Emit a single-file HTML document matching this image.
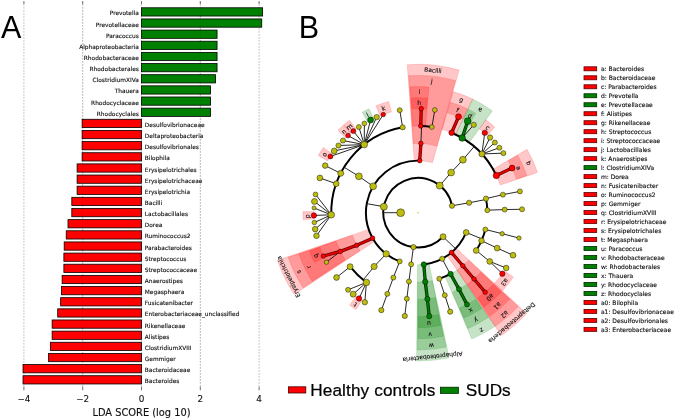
<!DOCTYPE html>
<html><head><meta charset="utf-8"><title>LEfSe</title>
<style>html,body{margin:0;padding:0;background:#fff}svg{display:block}text{font-family:"DejaVu Sans","Liberation Sans",sans-serif;fill:#111;stroke:#111;stroke-width:0.13px}.lib,.lib text{font-family:"Liberation Sans",Arial,sans-serif;fill:#000;stroke:none}.lib .bl{stroke:#000;stroke-width:0.22px}</style>
</head><body>
<svg width="675" height="419" viewBox="0 0 675 419">
<rect width="675" height="419" fill="#fff"/>
<g id="panelA">
<line x1="23.90" y1="1.5" x2="23.90" y2="387" stroke="#555" stroke-width="0.7" stroke-dasharray="0.9 2.1"/>
<line x1="23.90" y1="1.5" x2="23.90" y2="4" stroke="#333" stroke-width="0.7"/>
<line x1="23.90" y1="386.8" x2="23.90" y2="390.3" stroke="#333" stroke-width="0.7"/>
<line x1="82.70" y1="1.5" x2="82.70" y2="387" stroke="#555" stroke-width="0.7" stroke-dasharray="0.9 2.1"/>
<line x1="82.70" y1="1.5" x2="82.70" y2="4" stroke="#333" stroke-width="0.7"/>
<line x1="82.70" y1="386.8" x2="82.70" y2="390.3" stroke="#333" stroke-width="0.7"/>
<line x1="141.50" y1="1.5" x2="141.50" y2="387" stroke="#555" stroke-width="0.7" stroke-dasharray="0.9 2.1"/>
<line x1="141.50" y1="1.5" x2="141.50" y2="4" stroke="#333" stroke-width="0.7"/>
<line x1="141.50" y1="386.8" x2="141.50" y2="390.3" stroke="#333" stroke-width="0.7"/>
<line x1="200.30" y1="1.5" x2="200.30" y2="387" stroke="#555" stroke-width="0.7" stroke-dasharray="0.9 2.1"/>
<line x1="200.30" y1="1.5" x2="200.30" y2="4" stroke="#333" stroke-width="0.7"/>
<line x1="200.30" y1="386.8" x2="200.30" y2="390.3" stroke="#333" stroke-width="0.7"/>
<line x1="259.10" y1="1.5" x2="259.10" y2="387" stroke="#555" stroke-width="0.7" stroke-dasharray="0.9 2.1"/>
<line x1="259.10" y1="1.5" x2="259.10" y2="4" stroke="#333" stroke-width="0.7"/>
<line x1="259.10" y1="386.8" x2="259.10" y2="390.3" stroke="#333" stroke-width="0.7"/>
<rect x="141.50" y="7.78" width="121.13" height="8.25" fill="#008000" stroke="#000" stroke-width="0.8"/>
<text x="138.80" y="15.40" text-anchor="end" font-size="5.85">Prevotella</text>
<rect x="141.50" y="18.93" width="120.25" height="8.25" fill="#008000" stroke="#000" stroke-width="0.8"/>
<text x="138.80" y="26.55" text-anchor="end" font-size="5.85">Prevotellaceae</text>
<rect x="141.50" y="30.08" width="75.56" height="8.25" fill="#008000" stroke="#000" stroke-width="0.8"/>
<text x="138.80" y="37.70" text-anchor="end" font-size="5.85">Paracoccus</text>
<rect x="141.50" y="41.23" width="75.56" height="8.25" fill="#008000" stroke="#000" stroke-width="0.8"/>
<text x="138.80" y="48.85" text-anchor="end" font-size="5.85">Alphaproteobacteria</text>
<rect x="141.50" y="52.38" width="75.56" height="8.25" fill="#008000" stroke="#000" stroke-width="0.8"/>
<text x="138.80" y="60.00" text-anchor="end" font-size="5.85">Rhodobacteraceae</text>
<rect x="141.50" y="63.53" width="75.56" height="8.25" fill="#008000" stroke="#000" stroke-width="0.8"/>
<text x="138.80" y="71.15" text-anchor="end" font-size="5.85">Rhodobacterales</text>
<rect x="141.50" y="74.68" width="74.09" height="8.25" fill="#008000" stroke="#000" stroke-width="0.8"/>
<text x="138.80" y="82.30" text-anchor="end" font-size="5.85">ClostridiumXIVa</text>
<rect x="141.50" y="85.83" width="69.09" height="8.25" fill="#008000" stroke="#000" stroke-width="0.8"/>
<text x="138.80" y="93.45" text-anchor="end" font-size="5.85">Thauera</text>
<rect x="141.50" y="96.98" width="69.09" height="8.25" fill="#008000" stroke="#000" stroke-width="0.8"/>
<text x="138.80" y="104.60" text-anchor="end" font-size="5.85">Rhodocyclaceae</text>
<rect x="141.50" y="108.13" width="69.09" height="8.25" fill="#008000" stroke="#000" stroke-width="0.8"/>
<text x="138.80" y="115.75" text-anchor="end" font-size="5.85">Rhodocyclales</text>
<rect x="82.11" y="119.28" width="59.39" height="8.25" fill="#ff0000" stroke="#000" stroke-width="0.8"/>
<text x="144.80" y="126.90" font-size="5.85">Desulfovibrionaceae</text>
<rect x="82.11" y="130.43" width="59.39" height="8.25" fill="#ff0000" stroke="#000" stroke-width="0.8"/>
<text x="144.80" y="138.05" font-size="5.85">Deltaproteobacteria</text>
<rect x="82.11" y="141.58" width="59.39" height="8.25" fill="#ff0000" stroke="#000" stroke-width="0.8"/>
<text x="144.80" y="149.20" font-size="5.85">Desulfovibrionales</text>
<rect x="82.11" y="152.73" width="59.39" height="8.25" fill="#ff0000" stroke="#000" stroke-width="0.8"/>
<text x="144.80" y="160.35" font-size="5.85">Bilophila</text>
<rect x="77.11" y="163.88" width="64.39" height="8.25" fill="#ff0000" stroke="#000" stroke-width="0.8"/>
<text x="144.80" y="171.50" font-size="5.85">Erysipelotrichales</text>
<rect x="77.11" y="175.03" width="64.39" height="8.25" fill="#ff0000" stroke="#000" stroke-width="0.8"/>
<text x="144.80" y="182.65" font-size="5.85">Erysipelotrichaceae</text>
<rect x="77.11" y="186.18" width="64.39" height="8.25" fill="#ff0000" stroke="#000" stroke-width="0.8"/>
<text x="144.80" y="193.80" font-size="5.85">Erysipelotrichia</text>
<rect x="71.82" y="197.33" width="69.68" height="8.25" fill="#ff0000" stroke="#000" stroke-width="0.8"/>
<text x="144.80" y="204.95" font-size="5.85">Bacilli</text>
<rect x="71.82" y="208.48" width="69.68" height="8.25" fill="#ff0000" stroke="#000" stroke-width="0.8"/>
<text x="144.80" y="216.10" font-size="5.85">Lactobacillales</text>
<rect x="68.00" y="219.62" width="73.50" height="8.25" fill="#ff0000" stroke="#000" stroke-width="0.8"/>
<text x="144.80" y="227.25" font-size="5.85">Dorea</text>
<rect x="66.24" y="230.78" width="75.26" height="8.25" fill="#ff0000" stroke="#000" stroke-width="0.8"/>
<text x="144.80" y="238.40" font-size="5.85">Ruminococcus2</text>
<rect x="64.18" y="241.93" width="77.32" height="8.25" fill="#ff0000" stroke="#000" stroke-width="0.8"/>
<text x="144.80" y="249.55" font-size="5.85">Parabacteroides</text>
<rect x="63.88" y="253.07" width="77.62" height="8.25" fill="#ff0000" stroke="#000" stroke-width="0.8"/>
<text x="144.80" y="260.70" font-size="5.85">Streptococcus</text>
<rect x="63.88" y="264.22" width="77.62" height="8.25" fill="#ff0000" stroke="#000" stroke-width="0.8"/>
<text x="144.80" y="271.85" font-size="5.85">Streptococcaceae</text>
<rect x="62.12" y="275.38" width="79.38" height="8.25" fill="#ff0000" stroke="#000" stroke-width="0.8"/>
<text x="144.80" y="283.00" font-size="5.85">Anaerostipes</text>
<rect x="61.53" y="286.52" width="79.97" height="8.25" fill="#ff0000" stroke="#000" stroke-width="0.8"/>
<text x="144.80" y="294.15" font-size="5.85">Megasphaera</text>
<rect x="60.65" y="297.68" width="80.85" height="8.25" fill="#ff0000" stroke="#000" stroke-width="0.8"/>
<text x="144.80" y="305.30" font-size="5.85">Fusicatenibacter</text>
<rect x="57.71" y="308.82" width="83.79" height="8.25" fill="#ff0000" stroke="#000" stroke-width="0.8"/>
<text x="144.80" y="316.45" font-size="5.85">Enterobacteriaceae_unclassified</text>
<rect x="52.12" y="319.97" width="89.38" height="8.25" fill="#ff0000" stroke="#000" stroke-width="0.8"/>
<text x="144.80" y="327.60" font-size="5.85">Rikenellaceae</text>
<rect x="52.12" y="331.12" width="89.38" height="8.25" fill="#ff0000" stroke="#000" stroke-width="0.8"/>
<text x="144.80" y="338.75" font-size="5.85">Alistipes</text>
<rect x="50.36" y="342.27" width="91.14" height="8.25" fill="#ff0000" stroke="#000" stroke-width="0.8"/>
<text x="144.80" y="349.90" font-size="5.85">ClostridiumXVIII</text>
<rect x="48.60" y="353.43" width="92.90" height="8.25" fill="#ff0000" stroke="#000" stroke-width="0.8"/>
<text x="144.80" y="361.05" font-size="5.85">Gemmiger</text>
<rect x="23.02" y="364.57" width="118.48" height="8.25" fill="#ff0000" stroke="#000" stroke-width="0.8"/>
<text x="144.80" y="372.20" font-size="5.85">Bacteroidaceae</text>
<rect x="23.02" y="375.72" width="118.48" height="8.25" fill="#ff0000" stroke="#000" stroke-width="0.8"/>
<text x="144.80" y="383.35" font-size="5.85">Bacteroides</text>
<line x1="82.70" y1="1.5" x2="82.70" y2="387" stroke="#000" stroke-opacity="0.25" stroke-width="0.6" stroke-dasharray="0.9 2.1"/>
<line x1="200.30" y1="1.5" x2="200.30" y2="387" stroke="#000" stroke-opacity="0.25" stroke-width="0.6" stroke-dasharray="0.9 2.1"/>
<text x="23.90" y="401.8" text-anchor="middle" font-size="8.85">−4</text>
<text x="82.70" y="401.8" text-anchor="middle" font-size="8.85">−2</text>
<text x="141.50" y="401.8" text-anchor="middle" font-size="8.85">0</text>
<text x="200.30" y="401.8" text-anchor="middle" font-size="8.85">2</text>
<text x="259.10" y="401.8" text-anchor="middle" font-size="8.85">4</text>
<text x="141.50" y="415.6" text-anchor="middle" font-size="9.86">LDA SCORE (log 10)</text>
</g>
<text x="0.9" y="38" class="lib" font-size="30.5">A</text>
<text x="298.7" y="37.5" class="lib" font-size="30.5">B</text>
<g id="legend">
<rect x="584.0" y="66.80" width="12.7" height="4.0" fill="#ff0000" stroke="#5a0000" stroke-width="0.8"/>
<text x="600.9" y="71.00" font-size="6.02">a: Bacteroides</text>
<rect x="584.0" y="75.78" width="12.7" height="4.0" fill="#ff0000" stroke="#5a0000" stroke-width="0.8"/>
<text x="600.9" y="79.98" font-size="6.02">b: Bacteroidaceae</text>
<rect x="584.0" y="84.77" width="12.7" height="4.0" fill="#ff0000" stroke="#5a0000" stroke-width="0.8"/>
<text x="600.9" y="88.97" font-size="6.02">c: Parabacteroides</text>
<rect x="584.0" y="93.75" width="12.7" height="4.0" fill="#008000" stroke="#002800" stroke-width="0.8"/>
<text x="600.9" y="97.95" font-size="6.02">d: Prevotella</text>
<rect x="584.0" y="102.74" width="12.7" height="4.0" fill="#008000" stroke="#002800" stroke-width="0.8"/>
<text x="600.9" y="106.94" font-size="6.02">e: Prevotellaceae</text>
<rect x="584.0" y="111.72" width="12.7" height="4.0" fill="#ff0000" stroke="#5a0000" stroke-width="0.8"/>
<text x="600.9" y="115.92" font-size="6.02">f: Alistipes</text>
<rect x="584.0" y="120.71" width="12.7" height="4.0" fill="#ff0000" stroke="#5a0000" stroke-width="0.8"/>
<text x="600.9" y="124.91" font-size="6.02">g: Rikenellaceae</text>
<rect x="584.0" y="129.69" width="12.7" height="4.0" fill="#ff0000" stroke="#5a0000" stroke-width="0.8"/>
<text x="600.9" y="133.89" font-size="6.02">h: Streptococcus</text>
<rect x="584.0" y="138.68" width="12.7" height="4.0" fill="#ff0000" stroke="#5a0000" stroke-width="0.8"/>
<text x="600.9" y="142.88" font-size="6.02">i: Streptococcaceae</text>
<rect x="584.0" y="147.66" width="12.7" height="4.0" fill="#ff0000" stroke="#5a0000" stroke-width="0.8"/>
<text x="600.9" y="151.86" font-size="6.02">j: Lactobacillales</text>
<rect x="584.0" y="156.65" width="12.7" height="4.0" fill="#ff0000" stroke="#5a0000" stroke-width="0.8"/>
<text x="600.9" y="160.85" font-size="6.02">k: Anaerostipes</text>
<rect x="584.0" y="165.63" width="12.7" height="4.0" fill="#008000" stroke="#002800" stroke-width="0.8"/>
<text x="600.9" y="169.83" font-size="6.02">l: ClostridiumXIVa</text>
<rect x="584.0" y="174.62" width="12.7" height="4.0" fill="#ff0000" stroke="#5a0000" stroke-width="0.8"/>
<text x="600.9" y="178.82" font-size="6.02">m: Dorea</text>
<rect x="584.0" y="183.60" width="12.7" height="4.0" fill="#ff0000" stroke="#5a0000" stroke-width="0.8"/>
<text x="600.9" y="187.80" font-size="6.02">n: Fusicatenibacter</text>
<rect x="584.0" y="192.59" width="12.7" height="4.0" fill="#ff0000" stroke="#5a0000" stroke-width="0.8"/>
<text x="600.9" y="196.79" font-size="6.02">o: Ruminococcus2</text>
<rect x="584.0" y="201.57" width="12.7" height="4.0" fill="#ff0000" stroke="#5a0000" stroke-width="0.8"/>
<text x="600.9" y="205.77" font-size="6.02">p: Gemmiger</text>
<rect x="584.0" y="210.56" width="12.7" height="4.0" fill="#ff0000" stroke="#5a0000" stroke-width="0.8"/>
<text x="600.9" y="214.76" font-size="6.02">q: ClostridiumXVIII</text>
<rect x="584.0" y="219.55" width="12.7" height="4.0" fill="#ff0000" stroke="#5a0000" stroke-width="0.8"/>
<text x="600.9" y="223.75" font-size="6.02">r: Erysipelotrichaceae</text>
<rect x="584.0" y="228.53" width="12.7" height="4.0" fill="#ff0000" stroke="#5a0000" stroke-width="0.8"/>
<text x="600.9" y="232.73" font-size="6.02">s: Erysipelotrichales</text>
<rect x="584.0" y="237.51" width="12.7" height="4.0" fill="#ff0000" stroke="#5a0000" stroke-width="0.8"/>
<text x="600.9" y="241.71" font-size="6.02">t: Megasphaera</text>
<rect x="584.0" y="246.50" width="12.7" height="4.0" fill="#008000" stroke="#002800" stroke-width="0.8"/>
<text x="600.9" y="250.70" font-size="6.02">u: Paracoccus</text>
<rect x="584.0" y="255.49" width="12.7" height="4.0" fill="#008000" stroke="#002800" stroke-width="0.8"/>
<text x="600.9" y="259.69" font-size="6.02">v: Rhodobacteraceae</text>
<rect x="584.0" y="264.47" width="12.7" height="4.0" fill="#008000" stroke="#002800" stroke-width="0.8"/>
<text x="600.9" y="268.67" font-size="6.02">w: Rhodobacterales</text>
<rect x="584.0" y="273.45" width="12.7" height="4.0" fill="#008000" stroke="#002800" stroke-width="0.8"/>
<text x="600.9" y="277.65" font-size="6.02">x: Thauera</text>
<rect x="584.0" y="282.44" width="12.7" height="4.0" fill="#008000" stroke="#002800" stroke-width="0.8"/>
<text x="600.9" y="286.64" font-size="6.02">y: Rhodocyclaceae</text>
<rect x="584.0" y="291.43" width="12.7" height="4.0" fill="#008000" stroke="#002800" stroke-width="0.8"/>
<text x="600.9" y="295.62" font-size="6.02">z: Rhodocyclales</text>
<rect x="584.0" y="300.41" width="12.7" height="4.0" fill="#ff0000" stroke="#5a0000" stroke-width="0.8"/>
<text x="600.9" y="304.61" font-size="6.02">a0: Bilophila</text>
<rect x="584.0" y="309.39" width="12.7" height="4.0" fill="#ff0000" stroke="#5a0000" stroke-width="0.8"/>
<text x="600.9" y="313.59" font-size="6.02">a1: Desulfovibrionaceae</text>
<rect x="584.0" y="318.38" width="12.7" height="4.0" fill="#ff0000" stroke="#5a0000" stroke-width="0.8"/>
<text x="600.9" y="322.58" font-size="6.02">a2: Desulfovibrionales</text>
<rect x="584.0" y="327.37" width="12.7" height="4.0" fill="#ff0000" stroke="#5a0000" stroke-width="0.8"/>
<text x="600.9" y="331.56" font-size="6.02">a3: Enterobacteriaceae</text>
</g>
<g id="classlegend" class="lib" font-size="17.2">
<rect x="288.4" y="386.8" width="17.4" height="6.2" fill="#ff0000" stroke="#400" stroke-width="0.8"/>
<text x="310.2" y="395.6" letter-spacing="0.12" class="bl">Healthy controls</text>
<rect x="440.4" y="387.2" width="18" height="6.2" fill="#008000" stroke="#002800" stroke-width="0.8"/>
<text x="465.8" y="395.6" class="bl">SUDs</text>
</g>
<g id="clado">
<g id="wedges">
<path d="M432.43,162.69 L459.15,70.12 A148.40,148.40 0 0 0 407.26,64.69 L414.23,160.79 A52.05,52.05 0 0 1 432.43,162.69 Z" fill="#ff0000" fill-opacity="0.22" stroke="#ff0000" stroke-opacity="0.3" stroke-width="0.5"/>
<path d="M436.92,145.93 L455.43,80.60 A137.30,137.30 0 0 0 408.73,75.71 L413.32,143.46 A69.40,69.40 0 0 1 436.92,145.93 Z" fill="#ff0000" fill-opacity="0.22" stroke="#ff0000" stroke-opacity="0.3" stroke-width="0.5"/>
<path d="M425.55,126.28 L428.97,87.08 A126.10,126.10 0 0 0 410.10,86.85 L412.57,126.12 A86.75,86.75 0 0 1 425.55,126.28 Z" fill="#ff0000" fill-opacity="0.22" stroke="#ff0000" stroke-opacity="0.3" stroke-width="0.5"/>
<path d="M426.55,108.95 L427.44,98.09 A115.00,115.00 0 0 0 411.36,97.89 L411.99,108.77 A104.10,104.10 0 0 1 426.55,108.95 Z" fill="#ff0000" fill-opacity="0.22" stroke="#ff0000" stroke-opacity="0.3" stroke-width="0.5"/>
<path d="M455.62,134.53 L472.68,99.07 A126.10,126.10 0 0 0 452.97,91.55 L442.06,129.35 A86.75,86.75 0 0 1 455.62,134.53 Z" fill="#ff0000" fill-opacity="0.22" stroke="#ff0000" stroke-opacity="0.3" stroke-width="0.5"/>
<path d="M462.68,118.68 L467.36,108.83 A115.00,115.00 0 0 0 450.43,102.37 L447.36,112.83 A104.10,104.10 0 0 1 462.68,118.68 Z" fill="#ff0000" fill-opacity="0.22" stroke="#ff0000" stroke-opacity="0.3" stroke-width="0.5"/>
<path d="M469.17,142.65 L492.39,110.88 A126.10,126.10 0 0 0 472.68,99.07 L455.62,134.53 A86.75,86.75 0 0 1 469.17,142.65 Z" fill="#008000" fill-opacity="0.22" stroke="#008000" stroke-opacity="0.3" stroke-width="0.5"/>
<path d="M470.32,122.70 L475.80,113.28 A115.00,115.00 0 0 0 468.38,109.32 L463.60,119.12 A104.10,104.10 0 0 1 470.32,122.70 Z" fill="#008000" fill-opacity="0.22" stroke="#008000" stroke-opacity="0.3" stroke-width="0.5"/>
<path d="M487.45,135.16 L494.73,127.04 A115.00,115.00 0 0 0 485.84,119.84 L479.41,128.64 A104.10,104.10 0 0 1 487.45,135.16 Z" fill="#ff0000" fill-opacity="0.22" stroke="#ff0000" stroke-opacity="0.3" stroke-width="0.5"/>
<path d="M500.22,185.03 L537.51,172.48 A126.10,126.10 0 0 0 527.04,149.36 L493.01,169.13 A86.75,86.75 0 0 1 500.22,185.03 Z" fill="#ff0000" fill-opacity="0.22" stroke="#ff0000" stroke-opacity="0.3" stroke-width="0.5"/>
<path d="M516.50,179.01 L526.81,175.49 A115.00,115.00 0 0 0 517.72,155.43 L508.27,160.85 A104.10,104.10 0 0 1 516.50,179.01 Z" fill="#ff0000" fill-opacity="0.22" stroke="#ff0000" stroke-opacity="0.3" stroke-width="0.5"/>
<path d="M391.41,112.05 L388.62,101.52 A115.00,115.00 0 0 0 375.95,105.67 L379.93,115.81 A104.10,104.10 0 0 1 391.41,112.05 Z" fill="#ff0000" fill-opacity="0.22" stroke="#ff0000" stroke-opacity="0.3" stroke-width="0.5"/>
<path d="M373.59,118.55 L368.94,108.69 A115.00,115.00 0 0 0 362.16,112.17 L367.45,121.70 A104.10,104.10 0 0 1 373.59,118.55 Z" fill="#008000" fill-opacity="0.22" stroke="#008000" stroke-opacity="0.3" stroke-width="0.5"/>
<path d="M356.08,129.02 L349.60,120.26 A115.00,115.00 0 0 0 343.62,124.99 L350.67,133.31 A104.10,104.10 0 0 1 356.08,129.02 Z" fill="#ff0000" fill-opacity="0.22" stroke="#ff0000" stroke-opacity="0.3" stroke-width="0.5"/>
<path d="M350.67,133.31 L343.62,124.99 A115.00,115.00 0 0 0 337.90,130.19 L345.49,138.01 A104.10,104.10 0 0 1 350.67,133.31 Z" fill="#ff0000" fill-opacity="0.22" stroke="#ff0000" stroke-opacity="0.3" stroke-width="0.5"/>
<path d="M332.26,153.66 L323.28,147.48 A115.00,115.00 0 0 0 318.21,155.55 L327.67,160.97 A104.10,104.10 0 0 1 332.26,153.66 Z" fill="#ff0000" fill-opacity="0.22" stroke="#ff0000" stroke-opacity="0.3" stroke-width="0.5"/>
<path d="M313.90,211.70 L303.01,211.60 A115.00,115.00 0 0 0 303.21,219.62 L314.09,218.96 A104.10,104.10 0 0 1 313.90,211.70 Z" fill="#ff0000" fill-opacity="0.22" stroke="#ff0000" stroke-opacity="0.3" stroke-width="0.5"/>
<path d="M368.70,229.39 L277.43,260.28 A148.40,148.40 0 0 0 294.18,294.50 L374.57,241.39 A52.05,52.05 0 0 1 368.70,229.39 Z" fill="#ff0000" fill-opacity="0.22" stroke="#ff0000" stroke-opacity="0.3" stroke-width="0.5"/>
<path d="M352.37,235.27 L288.16,257.36 A137.30,137.30 0 0 0 303.07,287.82 L359.91,250.67 A69.40,69.40 0 0 1 352.37,235.27 Z" fill="#ff0000" fill-opacity="0.22" stroke="#ff0000" stroke-opacity="0.3" stroke-width="0.5"/>
<path d="M336.11,241.31 L298.96,254.29 A126.10,126.10 0 0 0 312.11,281.18 L345.15,259.81 A86.75,86.75 0 0 1 336.11,241.31 Z" fill="#ff0000" fill-opacity="0.22" stroke="#ff0000" stroke-opacity="0.3" stroke-width="0.5"/>
<path d="M319.90,247.52 L309.62,251.16 A115.00,115.00 0 0 0 314.34,262.50 L324.17,257.78 A104.10,104.10 0 0 1 319.90,247.52 Z" fill="#ff0000" fill-opacity="0.22" stroke="#ff0000" stroke-opacity="0.3" stroke-width="0.5"/>
<path d="M356.08,296.38 L349.60,305.14 A115.00,115.00 0 0 0 356.04,309.58 L361.91,300.40 A104.10,104.10 0 0 1 356.08,296.38 Z" fill="#ff0000" fill-opacity="0.22" stroke="#ff0000" stroke-opacity="0.3" stroke-width="0.5"/>
<path d="M417.50,264.75 L416.58,361.09 A148.40,148.40 0 0 0 449.11,357.80 L428.91,263.59 A52.05,52.05 0 0 1 417.50,264.75 Z" fill="#008000" fill-opacity="0.22" stroke="#008000" stroke-opacity="0.3" stroke-width="0.5"/>
<path d="M417.67,282.10 L417.35,350.00 A137.30,137.30 0 0 0 446.12,347.09 L432.22,280.63 A69.40,69.40 0 0 1 417.67,282.10 Z" fill="#008000" fill-opacity="0.22" stroke="#008000" stroke-opacity="0.3" stroke-width="0.5"/>
<path d="M418.02,299.45 L418.02,338.80 A126.10,126.10 0 0 0 443.23,336.25 L435.35,297.70 A86.75,86.75 0 0 1 418.02,299.45 Z" fill="#008000" fill-opacity="0.22" stroke="#008000" stroke-opacity="0.3" stroke-width="0.5"/>
<path d="M418.53,316.80 L418.58,327.70 A115.00,115.00 0 0 0 440.46,325.49 L438.33,314.80 A104.10,104.10 0 0 1 418.53,316.80 Z" fill="#008000" fill-opacity="0.22" stroke="#008000" stroke-opacity="0.3" stroke-width="0.5"/>
<path d="M445.17,276.56 L471.76,339.04 A137.30,137.30 0 0 0 495.07,326.33 L456.96,270.13 A69.40,69.40 0 0 1 445.17,276.56 Z" fill="#008000" fill-opacity="0.22" stroke="#008000" stroke-opacity="0.3" stroke-width="0.5"/>
<path d="M452.36,292.36 L467.94,328.49 A126.10,126.10 0 0 0 488.28,317.40 L466.35,284.73 A86.75,86.75 0 0 1 452.36,292.36 Z" fill="#008000" fill-opacity="0.22" stroke="#008000" stroke-opacity="0.3" stroke-width="0.5"/>
<path d="M459.69,308.09 L464.06,318.07 A115.00,115.00 0 0 0 481.62,308.50 L475.59,299.42 A104.10,104.10 0 0 1 459.69,308.09 Z" fill="#008000" fill-opacity="0.22" stroke="#008000" stroke-opacity="0.3" stroke-width="0.5"/>
<path d="M447.22,255.78 L501.31,335.51 A148.40,148.40 0 0 0 526.80,313.62 L456.16,248.10 A52.05,52.05 0 0 1 447.22,255.78 Z" fill="#ff0000" fill-opacity="0.22" stroke="#ff0000" stroke-opacity="0.3" stroke-width="0.5"/>
<path d="M457.24,269.94 L495.63,325.95 A137.30,137.30 0 0 0 518.20,306.57 L468.65,260.15 A69.40,69.40 0 0 1 457.24,269.94 Z" fill="#ff0000" fill-opacity="0.22" stroke="#ff0000" stroke-opacity="0.3" stroke-width="0.5"/>
<path d="M467.40,284.01 L489.80,316.36 A126.10,126.10 0 0 0 509.61,299.36 L481.02,272.32 A86.75,86.75 0 0 1 467.40,284.01 Z" fill="#ff0000" fill-opacity="0.22" stroke="#ff0000" stroke-opacity="0.3" stroke-width="0.5"/>
<path d="M477.69,297.98 L483.94,306.91 A115.00,115.00 0 0 0 501.16,292.14 L493.27,284.61 A104.10,104.10 0 0 1 477.69,297.98 Z" fill="#ff0000" fill-opacity="0.22" stroke="#ff0000" stroke-opacity="0.3" stroke-width="0.5"/>
<path d="M494.32,283.50 L502.31,290.91 A115.00,115.00 0 0 0 513.34,277.01 L504.30,270.91 A104.10,104.10 0 0 1 494.32,283.50 Z" fill="#ff0000" fill-opacity="0.22" stroke="#ff0000" stroke-opacity="0.3" stroke-width="0.5"/>
</g>
<g id="edges" fill="none" stroke-linecap="round">
<path d="M452.00,205.78 A34.70,34.70 0 1 0 443.05,236.72" stroke="#000" stroke-width="1.95"/>
<path d="M419.73,160.68 A52.05,52.05 0 0 0 399.69,261.42" stroke="#000" stroke-width="1.95"/>
<path d="M423.80,264.43 A52.05,52.05 0 0 0 466.16,232.45" stroke="#000" stroke-width="1.95"/>
<path d="M487.35,210.16 A69.40,69.40 0 0 0 485.96,198.63" stroke="#000" stroke-width="1.95"/>
<path d="M476.20,250.50 A69.40,69.40 0 0 0 485.34,229.49" stroke="#000" stroke-width="1.95"/>
<path d="M439.33,278.74 A69.40,69.40 0 0 0 450.58,273.98" stroke="#000" stroke-width="1.95"/>
<path d="M431.87,127.07 A86.75,86.75 0 0 0 420.72,125.99" stroke="#000" stroke-width="1.95"/>
<path d="M402.64,127.32 A86.75,86.75 0 0 0 331.28,214.82" stroke="#000" stroke-width="1.95"/>
<path d="M350.11,266.70 A86.75,86.75 0 0 0 366.40,282.43" stroke="#000" stroke-width="1.95"/>
<path d="M496.36,175.49 A86.75,86.75 0 0 0 451.62,132.73" stroke="#000" stroke-width="1.95"/>
<line x1="400.65" y1="212.70" x2="383.30" y2="212.70" stroke="#111" stroke-width="0.9"/>
<line x1="383.83" y1="206.67" x2="366.74" y2="203.66" stroke="#111" stroke-width="0.9"/>
<line x1="439.70" y1="185.62" x2="451.11" y2="172.54" stroke="#111" stroke-width="0.9"/>
<line x1="452.00" y1="205.78" x2="469.09" y2="202.77" stroke="#111" stroke-width="0.9"/>
<line x1="443.05" y1="236.72" x2="455.57" y2="248.73" stroke="#111" stroke-width="0.9"/>
<line x1="413.41" y1="247.10" x2="411.12" y2="264.29" stroke="#111" stroke-width="0.9"/>
<line x1="373.15" y1="186.28" x2="358.89" y2="176.34" stroke="#111" stroke-width="0.9"/>
<line x1="386.17" y1="253.88" x2="374.14" y2="266.48" stroke="#111" stroke-width="0.9"/>
<line x1="399.69" y1="261.42" x2="393.36" y2="277.58" stroke="#111" stroke-width="0.9"/>
<line x1="451.11" y1="172.54" x2="462.89" y2="159.77" stroke="#111" stroke-width="0.9"/>
<line x1="469.09" y1="202.77" x2="486.12" y2="199.46" stroke="#111" stroke-width="0.9"/>
<line x1="466.16" y1="232.45" x2="482.21" y2="239.03" stroke="#111" stroke-width="0.9"/>
<line x1="442.20" y1="258.78" x2="450.26" y2="274.15" stroke="#111" stroke-width="0.9"/>
<line x1="411.12" y1="264.29" x2="408.94" y2="281.51" stroke="#111" stroke-width="0.9"/>
<line x1="420.91" y1="143.36" x2="421.63" y2="126.03" stroke="#111" stroke-width="0.9"/>
<line x1="358.89" y1="176.34" x2="344.11" y2="167.24" stroke="#111" stroke-width="0.9"/>
<line x1="374.14" y1="266.48" x2="363.17" y2="279.93" stroke="#111" stroke-width="0.9"/>
<line x1="393.36" y1="277.58" x2="387.34" y2="293.85" stroke="#111" stroke-width="0.9"/>
<line x1="462.89" y1="159.77" x2="474.11" y2="146.54" stroke="#111" stroke-width="0.9"/>
<line x1="485.96" y1="198.63" x2="502.85" y2="194.66" stroke="#111" stroke-width="0.9"/>
<line x1="487.35" y1="210.16" x2="504.69" y2="209.60" stroke="#111" stroke-width="0.9"/>
<line x1="485.34" y1="229.49" x2="502.17" y2="233.69" stroke="#111" stroke-width="0.9"/>
<line x1="481.50" y1="240.71" x2="497.19" y2="248.12" stroke="#111" stroke-width="0.9"/>
<line x1="476.20" y1="250.50" x2="489.75" y2="261.46" stroke="#111" stroke-width="0.9"/>
<line x1="439.33" y1="278.74" x2="444.81" y2="295.20" stroke="#111" stroke-width="0.9"/>
<line x1="408.94" y1="281.51" x2="406.83" y2="298.73" stroke="#111" stroke-width="0.9"/>
<line x1="431.87" y1="127.07" x2="434.82" y2="109.97" stroke="#111" stroke-width="0.9"/>
<line x1="402.64" y1="127.32" x2="399.74" y2="110.21" stroke="#111" stroke-width="0.9"/>
<line x1="364.23" y1="144.62" x2="383.25" y2="114.57" stroke="#111" stroke-width="0.9"/>
<line x1="364.23" y1="144.62" x2="376.66" y2="117.16" stroke="#111" stroke-width="0.9"/>
<line x1="364.23" y1="144.62" x2="370.58" y2="120.03" stroke="#111" stroke-width="0.9"/>
<line x1="364.23" y1="144.62" x2="364.38" y2="123.47" stroke="#111" stroke-width="0.9"/>
<line x1="364.23" y1="144.62" x2="358.89" y2="127.01" stroke="#111" stroke-width="0.9"/>
<line x1="364.23" y1="144.62" x2="353.34" y2="131.12" stroke="#111" stroke-width="0.9"/>
<line x1="364.23" y1="144.62" x2="348.07" y2="135.58" stroke="#111" stroke-width="0.9"/>
<line x1="364.23" y1="144.62" x2="342.99" y2="140.52" stroke="#111" stroke-width="0.9"/>
<line x1="364.23" y1="144.62" x2="338.49" y2="145.51" stroke="#111" stroke-width="0.9"/>
<line x1="364.23" y1="144.62" x2="334.21" y2="150.93" stroke="#111" stroke-width="0.9"/>
<line x1="364.23" y1="144.62" x2="330.40" y2="156.46" stroke="#111" stroke-width="0.9"/>
<line x1="340.71" y1="173.32" x2="325.16" y2="165.60" stroke="#111" stroke-width="0.9"/>
<line x1="336.23" y1="183.74" x2="319.87" y2="177.95" stroke="#111" stroke-width="0.9"/>
<line x1="331.28" y1="214.82" x2="315.51" y2="194.44" stroke="#111" stroke-width="0.9"/>
<line x1="331.28" y1="214.82" x2="314.51" y2="201.46" stroke="#111" stroke-width="0.9"/>
<line x1="331.28" y1="214.82" x2="314.01" y2="207.98" stroke="#111" stroke-width="0.9"/>
<line x1="331.28" y1="214.82" x2="313.94" y2="215.43" stroke="#111" stroke-width="0.9"/>
<line x1="331.28" y1="214.82" x2="314.36" y2="222.50" stroke="#111" stroke-width="0.9"/>
<line x1="331.28" y1="214.82" x2="315.21" y2="229.16" stroke="#111" stroke-width="0.9"/>
<line x1="331.28" y1="214.82" x2="316.49" y2="235.76" stroke="#111" stroke-width="0.9"/>
<line x1="340.36" y1="251.41" x2="326.43" y2="262.21" stroke="#111" stroke-width="0.9"/>
<line x1="350.11" y1="266.70" x2="336.53" y2="277.50" stroke="#111" stroke-width="0.9"/>
<line x1="366.40" y1="282.43" x2="348.07" y2="289.82" stroke="#111" stroke-width="0.9"/>
<line x1="366.40" y1="282.43" x2="353.20" y2="294.17" stroke="#111" stroke-width="0.9"/>
<line x1="366.40" y1="282.43" x2="359.04" y2="298.49" stroke="#111" stroke-width="0.9"/>
<line x1="366.40" y1="282.43" x2="364.85" y2="302.21" stroke="#111" stroke-width="0.9"/>
<line x1="387.34" y1="293.85" x2="381.37" y2="310.14" stroke="#111" stroke-width="0.9"/>
<line x1="462.16" y1="138.03" x2="473.78" y2="124.81" stroke="#111" stroke-width="0.9"/>
<line x1="481.86" y1="153.98" x2="503.38" y2="153.14" stroke="#111" stroke-width="0.9"/>
<line x1="481.86" y1="153.98" x2="499.36" y2="147.75" stroke="#111" stroke-width="0.9"/>
<line x1="481.86" y1="153.98" x2="494.87" y2="142.51" stroke="#111" stroke-width="0.9"/>
<line x1="481.86" y1="153.98" x2="490.05" y2="137.56" stroke="#111" stroke-width="0.9"/>
<line x1="481.86" y1="153.98" x2="484.77" y2="132.84" stroke="#111" stroke-width="0.9"/>
<line x1="502.85" y1="194.66" x2="519.90" y2="191.41" stroke="#111" stroke-width="0.9"/>
<line x1="504.69" y1="209.60" x2="522.04" y2="209.25" stroke="#111" stroke-width="0.9"/>
<line x1="502.17" y1="233.69" x2="518.96" y2="238.06" stroke="#111" stroke-width="0.9"/>
<line x1="497.19" y1="248.12" x2="513.03" y2="255.21" stroke="#111" stroke-width="0.9"/>
<line x1="489.75" y1="261.46" x2="506.19" y2="268.02" stroke="#111" stroke-width="0.9"/>
<line x1="489.75" y1="261.46" x2="502.33" y2="273.74" stroke="#111" stroke-width="0.9"/>
<line x1="444.81" y1="295.20" x2="450.17" y2="311.70" stroke="#111" stroke-width="0.9"/>
<line x1="406.83" y1="298.73" x2="404.77" y2="315.96" stroke="#111" stroke-width="0.9"/>
<line x1="419.73" y1="160.68" x2="420.91" y2="143.36" stroke="#6a0000" stroke-width="3.3"/>
<line x1="419.73" y1="160.68" x2="420.91" y2="143.36" stroke="#e80000" stroke-width="1.7"/>
<line x1="372.61" y1="238.17" x2="356.72" y2="245.28" stroke="#6a0000" stroke-width="3.3"/>
<line x1="372.61" y1="238.17" x2="356.72" y2="245.28" stroke="#e80000" stroke-width="1.7"/>
<line x1="451.53" y1="252.51" x2="462.79" y2="265.71" stroke="#6a0000" stroke-width="3.3"/>
<line x1="451.53" y1="252.51" x2="462.79" y2="265.71" stroke="#e80000" stroke-width="1.7"/>
<line x1="423.80" y1="264.43" x2="425.25" y2="281.72" stroke="#003000" stroke-width="3.3"/>
<line x1="423.80" y1="264.43" x2="425.25" y2="281.72" stroke="#007800" stroke-width="1.7"/>
<line x1="356.72" y1="245.28" x2="340.36" y2="251.41" stroke="#6a0000" stroke-width="3.3"/>
<line x1="356.72" y1="245.28" x2="340.36" y2="251.41" stroke="#e80000" stroke-width="1.7"/>
<line x1="462.79" y1="265.71" x2="473.99" y2="278.96" stroke="#6a0000" stroke-width="3.3"/>
<line x1="462.79" y1="265.71" x2="473.99" y2="278.96" stroke="#e80000" stroke-width="1.7"/>
<line x1="450.58" y1="273.98" x2="458.99" y2="289.15" stroke="#003000" stroke-width="3.3"/>
<line x1="450.58" y1="273.98" x2="458.99" y2="289.15" stroke="#007800" stroke-width="1.7"/>
<line x1="425.25" y1="281.72" x2="427.37" y2="298.94" stroke="#003000" stroke-width="3.3"/>
<line x1="425.25" y1="281.72" x2="427.37" y2="298.94" stroke="#007800" stroke-width="1.7"/>
<line x1="420.72" y1="125.99" x2="421.27" y2="108.65" stroke="#6a0000" stroke-width="3.3"/>
<line x1="420.72" y1="125.99" x2="421.27" y2="108.65" stroke="#e80000" stroke-width="1.7"/>
<line x1="340.36" y1="251.41" x2="323.35" y2="256.03" stroke="#6a0000" stroke-width="3.3"/>
<line x1="340.36" y1="251.41" x2="323.35" y2="256.03" stroke="#e80000" stroke-width="1.7"/>
<line x1="451.62" y1="132.73" x2="458.51" y2="116.80" stroke="#6a0000" stroke-width="3.3"/>
<line x1="451.62" y1="132.73" x2="458.51" y2="116.80" stroke="#e80000" stroke-width="1.7"/>
<line x1="462.16" y1="138.03" x2="467.67" y2="121.22" stroke="#003000" stroke-width="3.3"/>
<line x1="462.16" y1="138.03" x2="467.67" y2="121.22" stroke="#007800" stroke-width="1.7"/>
<line x1="496.36" y1="175.49" x2="512.04" y2="168.05" stroke="#6a0000" stroke-width="3.3"/>
<line x1="496.36" y1="175.49" x2="512.04" y2="168.05" stroke="#e80000" stroke-width="1.7"/>
<line x1="473.99" y1="278.96" x2="485.19" y2="292.21" stroke="#6a0000" stroke-width="3.3"/>
<line x1="473.99" y1="278.96" x2="485.19" y2="292.21" stroke="#e80000" stroke-width="1.7"/>
<line x1="458.99" y1="289.15" x2="467.03" y2="304.53" stroke="#003000" stroke-width="3.3"/>
<line x1="458.99" y1="289.15" x2="467.03" y2="304.53" stroke="#007800" stroke-width="1.7"/>
<line x1="427.37" y1="298.94" x2="429.24" y2="316.19" stroke="#003000" stroke-width="3.3"/>
<line x1="427.37" y1="298.94" x2="429.24" y2="316.19" stroke="#007800" stroke-width="1.7"/>
</g>
<g id="nodes" stroke="#000" stroke-width="0.45">
<circle cx="418.00" cy="212.70" r="0.7" fill="#bdbd10" stroke="none"/>
<circle cx="400.65" cy="212.70" r="3.9" fill="#bdbd10"/>
<circle cx="383.83" cy="206.67" r="3.5" fill="#bdbd10"/>
<circle cx="439.70" cy="185.62" r="3.5" fill="#bdbd10"/>
<circle cx="452.00" cy="205.78" r="2.6" fill="#bdbd10"/>
<circle cx="443.05" cy="236.72" r="3.0" fill="#bdbd10"/>
<circle cx="413.41" cy="247.10" r="2.6" fill="#bdbd10"/>
<circle cx="419.73" cy="160.68" r="2.3" fill="#ff0000"/>
<circle cx="373.15" cy="186.28" r="3.4" fill="#bdbd10"/>
<circle cx="372.61" cy="238.17" r="2.3" fill="#ff0000"/>
<circle cx="386.17" cy="253.88" r="3.2" fill="#bdbd10"/>
<circle cx="399.69" cy="261.42" r="2.5" fill="#bdbd10"/>
<circle cx="451.11" cy="172.54" r="3.4" fill="#bdbd10"/>
<circle cx="469.09" cy="202.77" r="2.6" fill="#bdbd10"/>
<circle cx="466.16" cy="232.45" r="2.9" fill="#bdbd10"/>
<circle cx="451.53" cy="252.51" r="2.4" fill="#ff0000"/>
<circle cx="442.20" cy="258.78" r="2.6" fill="#bdbd10"/>
<circle cx="423.80" cy="264.43" r="2.7" fill="#008000"/>
<circle cx="411.12" cy="264.29" r="2.5" fill="#bdbd10"/>
<circle cx="420.91" cy="143.36" r="2.3" fill="#ff0000"/>
<circle cx="358.89" cy="176.34" r="3.4" fill="#bdbd10"/>
<circle cx="356.72" cy="245.28" r="2.3" fill="#ff0000"/>
<circle cx="374.14" cy="266.48" r="3.1" fill="#bdbd10"/>
<circle cx="393.36" cy="277.58" r="2.5" fill="#bdbd10"/>
<circle cx="462.89" cy="159.77" r="3.4" fill="#bdbd10"/>
<circle cx="485.96" cy="198.63" r="2.6" fill="#bdbd10"/>
<circle cx="487.35" cy="210.16" r="2.5" fill="#bdbd10"/>
<circle cx="485.34" cy="229.49" r="2.5" fill="#bdbd10"/>
<circle cx="481.50" cy="240.71" r="2.8" fill="#bdbd10"/>
<circle cx="476.20" cy="250.50" r="2.9" fill="#bdbd10"/>
<circle cx="462.79" cy="265.71" r="2.3" fill="#ff0000"/>
<circle cx="450.58" cy="273.98" r="2.7" fill="#008000"/>
<circle cx="439.33" cy="278.74" r="2.5" fill="#bdbd10"/>
<circle cx="425.25" cy="281.72" r="2.7" fill="#008000"/>
<circle cx="408.94" cy="281.51" r="2.5" fill="#bdbd10"/>
<circle cx="420.72" cy="125.99" r="2.3" fill="#ff0000"/>
<circle cx="431.87" cy="127.07" r="2.4" fill="#bdbd10"/>
<circle cx="402.64" cy="127.32" r="2.6" fill="#bdbd10"/>
<circle cx="364.23" cy="144.62" r="3.3" fill="#bdbd10"/>
<circle cx="340.71" cy="173.32" r="3.0" fill="#bdbd10"/>
<circle cx="336.23" cy="183.74" r="2.9" fill="#bdbd10"/>
<circle cx="331.28" cy="214.82" r="3.3" fill="#bdbd10"/>
<circle cx="340.36" cy="251.41" r="2.3" fill="#ff0000"/>
<circle cx="350.11" cy="266.70" r="3.0" fill="#bdbd10"/>
<circle cx="366.40" cy="282.43" r="3.3" fill="#bdbd10"/>
<circle cx="387.34" cy="293.85" r="2.5" fill="#bdbd10"/>
<circle cx="451.62" cy="132.73" r="2.8" fill="#ff0000"/>
<circle cx="462.16" cy="138.03" r="3.3" fill="#008000"/>
<circle cx="481.86" cy="153.98" r="3.0" fill="#bdbd10"/>
<circle cx="496.36" cy="175.49" r="3.2" fill="#ff0000"/>
<circle cx="502.85" cy="194.66" r="2.5" fill="#bdbd10"/>
<circle cx="504.69" cy="209.60" r="2.5" fill="#bdbd10"/>
<circle cx="502.17" cy="233.69" r="2.2" fill="#bdbd10"/>
<circle cx="497.19" cy="248.12" r="2.9" fill="#bdbd10"/>
<circle cx="489.75" cy="261.46" r="2.9" fill="#bdbd10"/>
<circle cx="473.99" cy="278.96" r="2.3" fill="#ff0000"/>
<circle cx="458.99" cy="289.15" r="2.5" fill="#008000"/>
<circle cx="444.81" cy="295.20" r="2.5" fill="#bdbd10"/>
<circle cx="427.37" cy="298.94" r="2.6" fill="#008000"/>
<circle cx="406.83" cy="298.73" r="2.5" fill="#bdbd10"/>
<circle cx="421.27" cy="108.65" r="2.3" fill="#ff0000"/>
<circle cx="434.82" cy="109.97" r="2.4" fill="#bdbd10"/>
<circle cx="399.74" cy="110.21" r="2.5" fill="#bdbd10"/>
<circle cx="383.25" cy="114.57" r="2.3" fill="#ff0000"/>
<circle cx="376.66" cy="117.16" r="2.7" fill="#bdbd10"/>
<circle cx="370.58" cy="120.03" r="3.0" fill="#008000"/>
<circle cx="364.38" cy="123.47" r="2.4" fill="#bdbd10"/>
<circle cx="358.89" cy="127.01" r="2.5" fill="#bdbd10"/>
<circle cx="353.34" cy="131.12" r="2.5" fill="#ff0000"/>
<circle cx="348.07" cy="135.58" r="2.4" fill="#ff0000"/>
<circle cx="342.99" cy="140.52" r="2.6" fill="#bdbd10"/>
<circle cx="338.49" cy="145.51" r="2.6" fill="#bdbd10"/>
<circle cx="334.21" cy="150.93" r="2.9" fill="#bdbd10"/>
<circle cx="330.40" cy="156.46" r="2.5" fill="#ff0000"/>
<circle cx="325.16" cy="165.60" r="2.8" fill="#bdbd10"/>
<circle cx="319.87" cy="177.95" r="2.9" fill="#bdbd10"/>
<circle cx="315.51" cy="194.44" r="2.4" fill="#bdbd10"/>
<circle cx="314.51" cy="201.46" r="3.0" fill="#bdbd10"/>
<circle cx="314.01" cy="207.98" r="2.0" fill="#bdbd10"/>
<circle cx="313.94" cy="215.43" r="2.7" fill="#ff0000"/>
<circle cx="314.36" cy="222.50" r="2.3" fill="#bdbd10"/>
<circle cx="315.21" cy="229.16" r="2.8" fill="#bdbd10"/>
<circle cx="316.49" cy="235.76" r="2.8" fill="#bdbd10"/>
<circle cx="323.35" cy="256.03" r="2.3" fill="#ff0000"/>
<circle cx="326.43" cy="262.21" r="2.2" fill="#bdbd10"/>
<circle cx="336.53" cy="277.50" r="2.9" fill="#bdbd10"/>
<circle cx="348.07" cy="289.82" r="2.5" fill="#bdbd10"/>
<circle cx="353.20" cy="294.17" r="3.0" fill="#bdbd10"/>
<circle cx="359.04" cy="298.49" r="2.7" fill="#ff0000"/>
<circle cx="364.85" cy="302.21" r="2.7" fill="#bdbd10"/>
<circle cx="381.37" cy="310.14" r="2.6" fill="#bdbd10"/>
<circle cx="404.77" cy="315.96" r="2.6" fill="#bdbd10"/>
<circle cx="429.24" cy="316.19" r="2.6" fill="#008000"/>
<circle cx="450.17" cy="311.70" r="2.6" fill="#bdbd10"/>
<circle cx="467.03" cy="304.53" r="2.5" fill="#008000"/>
<circle cx="485.19" cy="292.21" r="2.3" fill="#ff0000"/>
<circle cx="506.19" cy="268.02" r="2.8" fill="#bdbd10"/>
<circle cx="502.33" cy="273.74" r="2.7" fill="#ff0000"/>
<circle cx="513.03" cy="255.21" r="2.9" fill="#bdbd10"/>
<circle cx="518.96" cy="238.06" r="2.2" fill="#bdbd10"/>
<circle cx="522.04" cy="209.25" r="2.5" fill="#bdbd10"/>
<circle cx="519.90" cy="191.41" r="2.5" fill="#bdbd10"/>
<circle cx="512.04" cy="168.05" r="3.0" fill="#ff0000"/>
<circle cx="503.38" cy="153.14" r="2.5" fill="#bdbd10"/>
<circle cx="499.36" cy="147.75" r="2.5" fill="#bdbd10"/>
<circle cx="494.87" cy="142.51" r="2.5" fill="#bdbd10"/>
<circle cx="490.05" cy="137.56" r="2.7" fill="#bdbd10"/>
<circle cx="484.77" cy="132.84" r="2.7" fill="#ff0000"/>
<circle cx="467.67" cy="121.22" r="3.4" fill="#008000"/>
<circle cx="473.78" cy="124.81" r="2.6" fill="#bdbd10"/>
<circle cx="458.51" cy="116.80" r="3.0" fill="#ff0000"/>
</g>
<g id="wlabels" text-anchor="middle">
<text transform="translate(432.99,70.28) rotate(5.97)" y="2.01" font-size="5.9">Bacilli</text>
<text transform="translate(431.83,81.32) rotate(5.97)" y="2.11" font-size="6.2">j</text>
<text transform="translate(419.49,91.81) rotate(0.70)" y="2.11" font-size="6.2">i</text>
<text transform="translate(419.35,102.91) rotate(0.70)" y="2.11" font-size="6.2">h</text>
<text transform="translate(461.42,99.81) rotate(20.90)" y="2.11" font-size="6.2">g</text>
<text transform="translate(457.46,110.18) rotate(20.90)" y="2.11" font-size="6.2">f</text>
<text transform="translate(480.54,109.10) rotate(30.92)" y="2.11" font-size="6.2">e</text>
<text transform="translate(470.05,115.91) rotate(28.08)" y="2.11" font-size="6.2">d</text>
<text transform="translate(487.60,127.55) rotate(39.00)" y="2.11" font-size="6.2">c</text>
<text transform="translate(528.85,163.27) rotate(65.62)" y="2.11" font-size="6.2">b</text>
<text transform="translate(518.74,167.85) rotate(65.62)" y="2.11" font-size="6.2">a</text>
<text transform="translate(383.59,108.39) rotate(-18.12)" y="2.11" font-size="6.2">k</text>
<text transform="translate(367.53,115.09) rotate(-27.15)" y="2.11" font-size="6.2">l</text>
<text transform="translate(349.30,126.82) rotate(-38.40)" y="2.11" font-size="6.2">m</text>
<text transform="translate(343.67,131.60) rotate(-42.22)" y="2.11" font-size="6.2">n</text>
<text transform="translate(324.39,154.60) rotate(-57.82)" y="2.11" font-size="6.2">o</text>
<text transform="translate(307.44,216.30) rotate(-91.45)" y="2.11" font-size="6.2">p</text>
<text transform="translate(288.66,276.79) rotate(-116.07)" y="2.01" font-size="5.9">Erysipelotrichia</text>
<text transform="translate(298.63,271.92) rotate(-116.07)" y="2.11" font-size="6.2">s</text>
<text transform="translate(308.69,266.99) rotate(-116.07)" y="2.11" font-size="6.2">r</text>
<text transform="translate(315.89,256.00) rotate(-112.60)" y="2.11" font-size="6.2">q</text>
<text transform="translate(355.28,304.59) rotate(-145.45)" y="2.11" font-size="6.2">t</text>
<text transform="translate(432.49,356.77) rotate(-185.77)" y="2.01" font-size="5.9">Alphaproteobacteria</text>
<text transform="translate(431.37,345.73) rotate(-185.77)" y="2.11" font-size="6.2">w</text>
<text transform="translate(430.25,334.58) rotate(-185.77)" y="2.11" font-size="6.2">v</text>
<text transform="translate(429.13,323.54) rotate(-185.77)" y="2.11" font-size="6.2">u</text>
<text transform="translate(481.62,330.18) rotate(-208.60)" y="2.11" font-size="6.2">z</text>
<text transform="translate(476.26,320.35) rotate(-208.60)" y="2.11" font-size="6.2">y</text>
<text transform="translate(470.94,310.60) rotate(-208.60)" y="2.11" font-size="6.2">x</text>
<text transform="translate(511.81,322.75) rotate(-220.65)" y="2.01" font-size="5.9">Deltaproteobacteria</text>
<text transform="translate(504.58,314.33) rotate(-220.65)" y="2.11" font-size="6.2">a2</text>
<text transform="translate(497.28,305.83) rotate(-220.65)" y="2.11" font-size="6.2">a1</text>
<text transform="translate(490.05,297.41) rotate(-220.65)" y="2.11" font-size="6.2">a0</text>
<text transform="translate(504.65,282.24) rotate(-231.57)" y="2.11" font-size="6.2">a3</text>
</g>
</g>
</svg>
</body></html>
